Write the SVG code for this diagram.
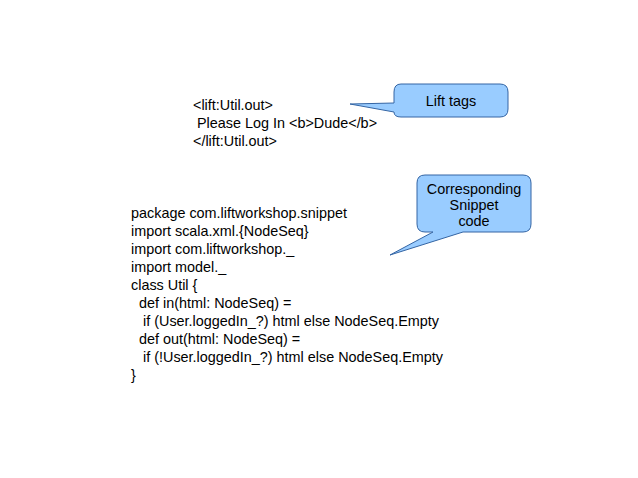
<svg xmlns="http://www.w3.org/2000/svg" width="638" height="478" viewBox="0 0 638 478">
<style>
.t{font-family:"Liberation Sans",Arial,sans-serif;font-size:14.4px;fill:#000}
.c{fill:#99ccff;stroke:#3465a4;stroke-width:1}
</style>
<rect width="638" height="478" fill="#fff"/>
<g id="tags-text">
<text class="t" x="193" y="110">&lt;lift:Util.out&gt;</text>
<text class="t" x="197" y="128">Please Log In &lt;b&gt;Dude&lt;/b&gt;</text>
<text class="t" x="193" y="146">&lt;/lift:Util.out&gt;</text>
</g>
<g id="code-text">
<text class="t" x="131" y="218">package com.liftworkshop.snippet</text>
<text class="t" x="131" y="236">import scala.xml.{NodeSeq}</text>
<text class="t" x="131" y="254">import com.liftworkshop._</text>
<text class="t" x="131" y="272">import model._</text>
<text class="t" x="131" y="290">class Util {</text>
<text class="t" x="139" y="308">def in(html: NodeSeq) =</text>
<text class="t" x="143" y="326">if (User.loggedIn_?) html else NodeSeq.Empty</text>
<text class="t" x="139" y="344">def out(html: NodeSeq) =</text>
<text class="t" x="143" y="362">if (!User.loggedIn_?) html else NodeSeq.Empty</text>
<text class="t" x="131" y="380">}</text>
</g>
<g id="callout-lift">
<path class="c" d="M401,84 H500 Q508,84 508,92 V109 Q508,117 500,117 H401 Q394,117 394,112 L350,104 L394,103 V92 Q394,84 401,84 Z"/>
<text class="t" x="451" y="106" text-anchor="middle">Lift tags</text>
</g>
<g id="callout-snippet">
<path class="c" d="M425,175 H523 Q531,175 531,183 V224 Q531,232 523,232 H463 L390,255 L433,232 H425 Q417,232 417,224 V183 Q417,175 425,175 Z"/>
<text class="t" x="474" y="194" text-anchor="middle">Corresponding</text>
<text class="t" x="474" y="210" text-anchor="middle">Snippet</text>
<text class="t" x="474" y="226" text-anchor="middle">code</text>
</g>
</svg>
